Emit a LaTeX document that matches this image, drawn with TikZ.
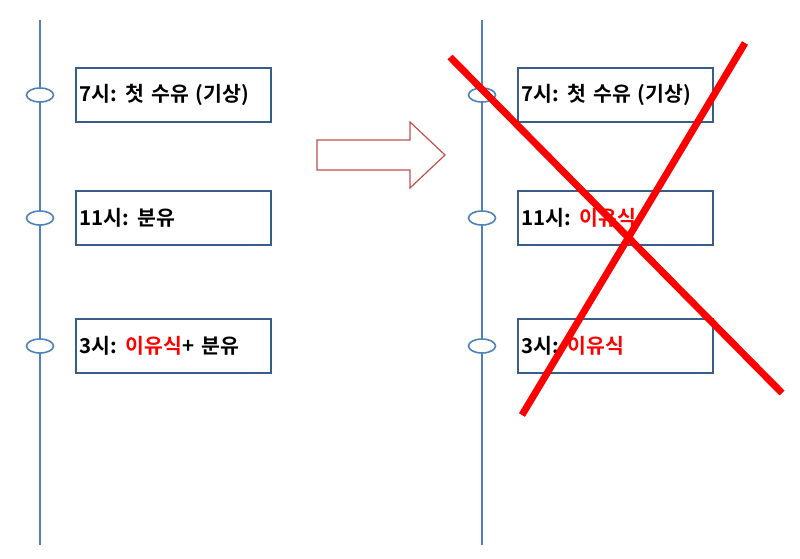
\documentclass[tikz,border=0pt]{standalone}
\usepackage{fontspec}
\newfontfamily\kr{Noto Sans CJK KR}[BoldFont={* Bold}]
\usetikzlibrary{shapes.geometric}
\definecolor{axisblue}{HTML}{4F81BD}
\definecolor{boxblue}{HTML}{385D8A}
\definecolor{arrowred}{HTML}{C0504D}

\begin{document}
\begin{tikzpicture}[x=1pt,y=-1pt]
\tikzset{
  axis/.style={axisblue, line width=2pt},
  tick/.style={ellipse, draw=axisblue, line width=1.6pt, fill=white, minimum width=27pt, minimum height=14pt, inner sep=0pt},
  event/.style={draw=boxblue, line width=1.6pt, minimum width=195pt, minimum height=54pt, anchor=west, inner xsep=4pt, text width=187pt, align=left, font=\kr\bfseries\fontsize{20.5}{22}\selectfont},
  cross/.style={red, line width=7pt}
}
\useasboundingbox (0,0) rectangle (800,558);
%left timeline
\draw[axis] (40,20) -- (40,545);
\node[tick] (l1) at (40,95) {};
\node[tick] (l2) at (40,218) {};
\node[tick] (l3) at (40,346) {};
\node[event] (a1) at (75,95) {7시:\hspace{-2pt} 첫 수유 (기상)};
\node[event] (a2) at (75,218) {11시:\hspace{-2pt} 분유};
\node[event] (a3) at (75,346) {3시:\hspace{-2pt} \textcolor{red}{이유식}+ 분유};
%arrow
\draw[arrowred, line width=1.2pt, fill=white] (317,140) -- (410,140) -- (410,122) -- (445,155) -- (410,188) -- (410,170) -- (317,170) -- cycle;
%right timeline
\draw[axis] (482,20) -- (482,545);
\node[tick] (r1) at (482,95) {};
\node[tick] (r2) at (482,218) {};
\node[tick] (r3) at (482,346) {};
\node[event] (b1) at (517,95) {7시:\hspace{-2pt} 첫 수유 (기상)};
\node[event] (b2) at (517,218) {11시:\hspace{-2pt} \textcolor{red}{이유식}};
\node[event] (b3) at (517,346) {3시:\hspace{-2pt} \textcolor{red}{이유식}};
%cross
\draw[cross] (450,57) -- (782,393);
\draw[cross] (745,43) -- (522,415);
\end{tikzpicture}
\end{document}
